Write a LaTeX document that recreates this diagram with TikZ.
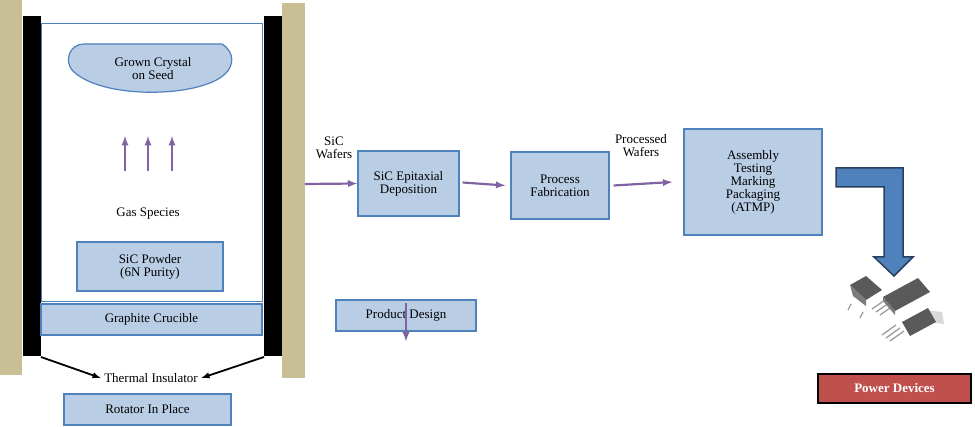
\documentclass[tikz,border=0pt]{standalone}
\usepackage{fontspec}
\setmainfont{Liberation Serif}
\begin{document}
\definecolor{bfill}{HTML}{B9CDE5}
\definecolor{bline}{HTML}{4F81BD}
\definecolor{purp}{HTML}{8064A2}
\definecolor{tan}{HTML}{C8BF95}
\definecolor{redb}{HTML}{C0504D}
\definecolor{dgray}{HTML}{5A5A5A}
\begin{tikzpicture}[x=1pt,y=-1pt,
  box/.style={draw=bline,fill=bfill,line width=1.2pt,align=center,inner sep=0pt},
  txt/.style={align=center,font=\fontsize{13}{15}\selectfont},
  parr/.style={draw=purp,line width=2.2pt,-latex},
  karr/.style={draw=black,line width=1.8pt,-latex}]
\useasboundingbox (0,0) rectangle (975,427);
% walls
\fill[tan] (0,0) rectangle (22,375);
\fill[black] (23,16) rectangle (41,356);
\fill[black] (264,16) rectangle (282,356);
\fill[tan] (282,3) rectangle (305,378);
\draw[bline,line width=1pt] (41,24) rectangle (262,302);
\node[box,minimum width=221pt,minimum height=31pt,txt] (gc) at (151.5,319.5) {Graphite Crucible};
% crystal
\draw[bline,fill=bfill,line width=1.2pt] (84,44) -- (222,44) .. controls (235,52) and (234,66) .. (225,74) .. controls (200,98) and (100,100) .. (72,70) .. controls (64,60) and (70,44) .. (84,44) -- cycle;
\node[txt] (cry) at (153,69) {Grown Crystal\\[-2pt]on Seed};
\coordinate (g1a) at (125,171); \coordinate (g1b) at (125,136);
\coordinate (g2a) at (148,171); \coordinate (g2b) at (148,136);
\coordinate (g3a) at (172,171); \coordinate (g3b) at (172,136);
\draw[parr] (g1a) -- (g1b); \draw[parr] (g2a) -- (g2b); \draw[parr] (g3a) -- (g3b);
\node[txt] (gas) at (148,214) {Gas Species};
\node[box,minimum width=146pt,minimum height=49pt,txt] (pow) at (150,266.5) {SiC Powder\\[-2pt](6N Purity)};
\node[txt] (ti) at (151,378) {Thermal Insulator};
\coordinate (lb) at (41,357); \coordinate (rb) at (264,357);
\draw[karr] (lb) -- (ti.west);
\draw[karr] (rb) -- (ti.east);
\node[box,minimum width=167pt,minimum height=31pt,txt] (rot) at (147.5,409.5) {Rotator In Place};
% flow
\node[txt] (wf) at (334,148) {SiC\\[-2pt]Wafers};
\coordinate (wst) at (305,184);
\node[box,minimum width=101pt,minimum height=65pt,txt] (epi) at (408.5,183.5) {SiC Epitaxial\\[-2pt]Deposition};
\draw[parr] (wst) -- (epi.west);
\node[box,minimum width=98pt,minimum height=67pt,txt] (pf) at (560,185.5) {Process\\[-2pt]Fabrication};
\draw[parr] (epi.east) ++(3,-1) -- ([xshift=-5pt]pf.west);
\node[box,minimum width=140pt,minimum height=31pt,txt] (pd) at (406,315.5) {Product Design};
\draw[parr] ([yshift=-4pt]pd.north) -- ([yshift=-42pt]pd.north);
\node[txt] (pw) at (641,146) {Processed\\[-2pt]Wafers};
\node[box,minimum width=138pt,minimum height=106pt,txt] (atmp) at (753,182) {Assembly\\[-2pt]Testing\\[-2pt]Marking\\[-2pt]Packaging\\[-2pt](ATMP)};
\draw[parr] ([xshift=4pt]pf.east) -- ([xshift=-11pt]atmp.west);
% bent arrow
\draw[fill=bline,draw=bline!50!black,line width=1.5pt,line join=miter] (836,168) -- (903,168) -- (903,257) -- (913,257) -- (894,276) -- (874,257) -- (884,257) -- (884,187) -- (836,187) -- cycle;
% devices
\begin{scope}[line width=1.3pt,dgray!60]
\foreach \i in {0,1,2} {\draw (885+\i*4,300+\i*3) -- (872+\i*4,309+\i*3);}
\foreach \i in {0,1,2} {\draw (896+\i*4,325+\i*3) -- (882+\i*4,335+\i*3);}
\draw (851,304) -- (848,310); \draw (863,312) -- (860,318);
\end{scope}
\fill[dgray] (850,285) -- (866,276) -- (882,290) -- (866,300) -- cycle;
\fill[dgray!80] (853,296) -- (866,306) -- (866,300) -- (850,285) -- cycle;
\fill[dgray] (883,297) -- (918,278) -- (930,292) -- (895,311) -- cycle;
\fill[dgray!80] (883,297) -- (895,311) -- (895,315) -- (883,301) -- cycle;
\fill[gray!30] (925,310) -- (942,312) -- (944,324) -- (928,322) -- cycle;
\fill[dgray] (902,322) -- (928,308) -- (936,322) -- (910,336) -- cycle;
\node[draw=black,line width=2pt,fill=redb,minimum width=153pt,minimum height=29pt,inner sep=0pt,text=white,font=\fontsize{13}{15}\selectfont\bfseries] (pdv) at (894.5,388.5) {Power Devices};
\end{tikzpicture}
\end{document}
